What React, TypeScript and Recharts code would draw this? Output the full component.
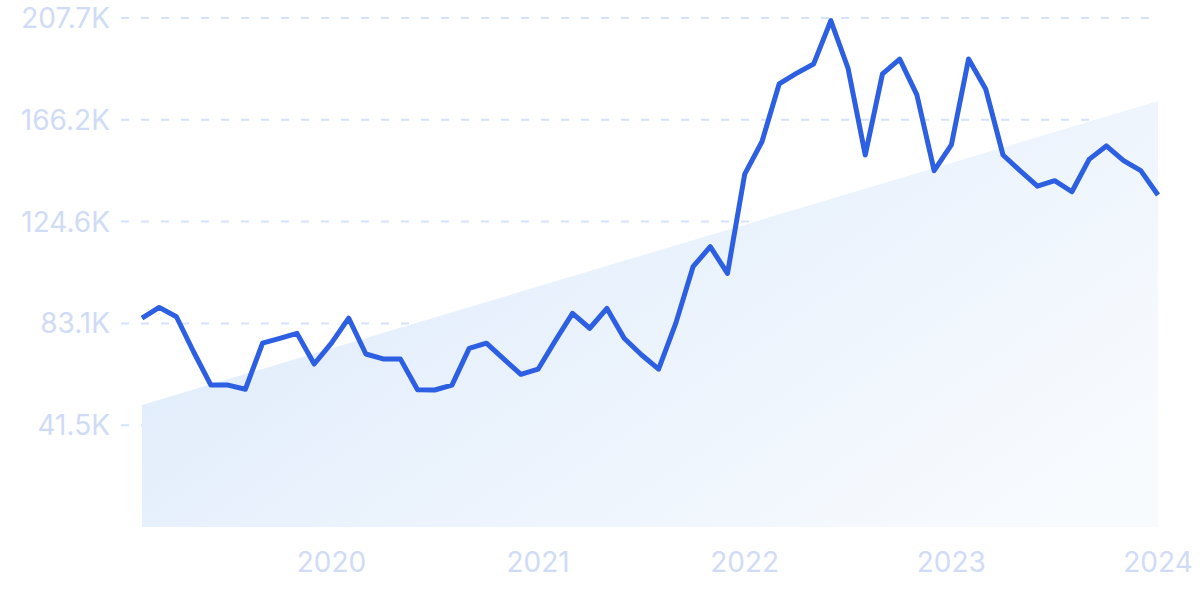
import { ComposedChart, Line, Area, XAxis, YAxis, CartesianGrid } from "recharts";

const months = [
  "2019-02", "2019-03", "2019-04", "2019-05", "2019-06", "2019-07", "2019-08", "2019-09", "2019-10", "2019-11", "2019-12",
  "2020-01", "2020-02", "2020-03", "2020-04", "2020-05", "2020-06", "2020-07", "2020-08", "2020-09", "2020-10", "2020-11", "2020-12",
  "2021-01", "2021-02", "2021-03", "2021-04", "2021-05", "2021-06", "2021-07", "2021-08", "2021-09", "2021-10", "2021-11", "2021-12",
  "2022-01", "2022-02", "2022-03", "2022-04", "2022-05", "2022-06", "2022-07", "2022-08", "2022-09", "2022-10", "2022-11", "2022-12",
  "2023-01", "2023-02", "2023-03", "2023-04", "2023-05", "2023-06", "2023-07", "2023-08", "2023-09", "2023-10", "2023-11", "2023-12",
  "2024-01",
];

// monthly values, in thousands
const searches = [
  85.2, 89.6, 85.8, 71.4, 57.9, 57.9, 56.2, 75.0, 77.0, 79.0, 66.5,
  75.0, 85.2, 70.6, 68.6, 68.6, 56.0, 55.9, 57.9, 72.9, 75.0, 68.6, 62.3,
  64.4, 76.0, 87.2, 81.1, 89.2, 77.0, 70.3, 64.4, 83.2, 106.2, 114.4, 103.5,
  144.0, 157.2, 180.8, 185.1, 188.9, 206.6, 187.2, 151.8, 184.9, 190.9, 176.3, 145.4,
  155.9, 191.0, 178.6, 151.8, 145.3, 139.1, 141.3, 136.8, 150.0, 155.5, 149.5, 145.4,
  135.5,
];

// trend line, first and last month
const trendEnds = [49.8, 173.8];

const yTicks = [41.54, 83.08, 124.62, 166.16, 207.7];
const yearTicks = ["2020-01", "2021-01", "2022-01", "2023-01", "2024-01"];

const data = months.map((m, i) => ({
  month: m,
  value: searches[i],
  trend: i === 0 ? trendEnds[0] : i === months.length - 1 ? trendEnds[1] : null,
}));

const labelColor = "#d0dbf6";

export default function App() {
  return (
    <div style={{ position: "absolute", left: 0, top: 0 }}>
      <ComposedChart
        width={1200}
        height={599}
        data={data}
        margin={{ top: 18, right: 42, bottom: 0, left: 0 }}
        style={{ fontFamily: "Inter, sans-serif" }}
      >
        <defs>
          <linearGradient id="trendFill" x1="0" y1="0.2" x2="1" y2="0.8">
            <stop offset="0%" stopColor="#ddeafb" />
            <stop offset="100%" stopColor="#f8fbfe" />
          </linearGradient>
        </defs>

        {/* dashed horizontal grid, only at the labelled ticks */}
        <CartesianGrid
          vertical={false}
          horizontalValues={yTicks}
          stroke="#d5e2fb"
          strokeWidth={2}
          strokeDasharray="8 12"
        />

        <XAxis
          dataKey="month"
          ticks={yearTicks}
          tickFormatter={(v) => String(v).slice(0, 4)}
          axisLine={false}
          tickLine={false}
          tickSize={0}
          tickMargin={25}
          height={72}
          padding={{ left: 21, right: 0 }}
          tick={{ fill: labelColor, fontSize: 28 }}
          interval={0}
        />

        <YAxis
          domain={[0, 207.7]}
          ticks={yTicks}
          tickFormatter={(v) => `${Number(v).toFixed(1)}K`}
          axisLine={false}
          tickLine={false}
          tickSize={0}
          tickMargin={11}
          width={121}
          tick={{ fill: labelColor, fontSize: 28 }}
        />

        {/* trend area */}
        <Area
          type="linear"
          dataKey="trend"
          connectNulls
          stroke="none"
          fill="url(#trendFill)"
          fillOpacity={1}
          isAnimationActive={false}
        />

        <Line
          type="linear"
          dataKey="value"
          stroke="#2d5fe3"
          strokeWidth={5}
          strokeLinejoin="round"
          dot={false}
          activeDot={false}
          isAnimationActive={false}
        />
      </ComposedChart>
    </div>
  );
}
